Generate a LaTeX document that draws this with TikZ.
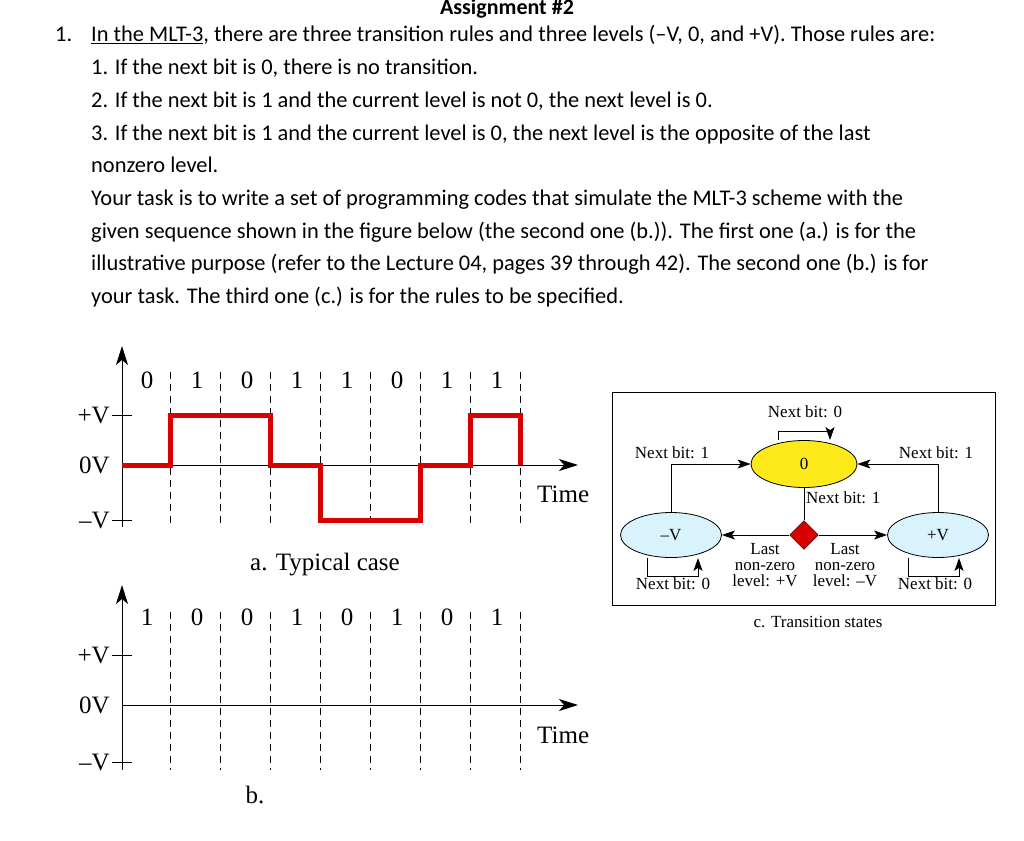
\documentclass[tikz,border=0pt]{standalone}
\usepackage{fontspec}
\setmainfont{Carlito}
\newfontfamily\serifx{Liberation Serif}
\usetikzlibrary{arrows.meta,shapes.geometric}
\begin{document}
\begin{tikzpicture}[x=1pt,y=-1pt,
  body/.style={anchor=base west,font=\fontsize{22.4}{22}\selectfont,inner sep=0},
  lab/.style={font=\serifx\fontsize{25}{25}\selectfont,inner sep=1},
  small/.style={font=\serifx\fontsize{17}{16}\selectfont,inner sep=1,align=center},
  ax/.style={line width=1pt},
  arr/.style={-{Stealth[length=19pt,width=12pt,inset=5pt]}},
  dsh/.style={dash pattern=on 7pt off 5pt,line width=0.7pt},
  wave/.style={red!85!black,line width=5pt,line join=miter},
  st/.style={ellipse,draw,line width=0.8pt,minimum width=101pt,minimum height=45pt,font=\serifx\fontsize{17}{17}\selectfont},
  ca/.style={line width=1pt,-{Stealth[length=13pt,width=9pt,inset=3pt]}}]
\useasboundingbox (0,0) rectangle (1024,840);
% text
\node[anchor=base,font=\bfseries\fontsize{22}{22}\selectfont,inner sep=0] (title) at (507,15) {Assignment \#2};
\node[body] (n1) at (55,42) {1.};
\node[body] (l0) at (91,42) {\underline{In the MLT-3}, there are three transition rules and three levels (–V, 0, and +V). Those rules are:};
\node[body] (l1) at (91,75) {1. If the next bit is 0, there is no transition.};
\node[body] (l2) at (91,108) {2. If the next bit is 1 and the current level is not 0, the next level is 0.};
\node[body] (l3) at (91,140) {3. If the next bit is 1 and the current level is 0, the next level is the opposite of the last};
\node[body] (l4) at (91,172) {nonzero level.};
\node[body] (l5) at (91,205) {Your task is to write a set of programming codes that simulate the MLT-3 scheme with the};
\node[body] (l6) at (91,238) {given sequence shown in the figure below (the second one (b.)). The first one (a.) is for the};
\node[body] (l7) at (91,270) {illustrative purpose (refer to the Lecture 04, pages 39 through 42). The second one (b.) is for};
\node[body] (l8) at (91,303) {your task. The third one (c.) is for the rules to be specified.};
% chart a
\foreach \x in {170,220,...,520} \draw[dsh] (\x,372) -- (\x,527);
\draw[ax,arr] (122,527) -- (122,346);
\draw[ax,arr] (122,465) -- (578,465);
\foreach \y in {415,520} \draw[ax] (112,\y) -- (132,\y);
\node[lab,anchor=east] (pv) at (111,415) {+V};
\node[lab,anchor=east] (zv) at (111,465) {0V};
\node[lab,anchor=east] (mv) at (111,520) {–V};
\node[lab,anchor=west] (ta) at (536,494) {Time};
\foreach \b [count=\i] in {0,1,0,1,1,0,1,1} \node[lab] (a\i) at (122+50*\i-25,380) {\b};
\draw[wave] (122,465) -- (170,465) -- (170,415) -- (270,415) -- (270,465) -- (320,465) -- (320,520) -- (420,520) -- (420,465) -- (470,465) -- (470,415) -- (520,415) -- (520,465);
\node[lab] (capa) at (325,565) {a. Typical case};
% chart b
\foreach \x in {170,220,...,520} \draw[dsh] (\x,612) -- (\x,770);
\draw[ax,arr] (122,770) -- (122,585);
\draw[ax,arr] (122,705) -- (578,705);
\foreach \y in {655,762} \draw[ax] (112,\y) -- (132,\y);
\node[lab,anchor=east] (pvb) at (111,655) {+V};
\node[lab,anchor=east] (zvb) at (111,705) {0V};
\node[lab,anchor=east] (mvb) at (111,762) {–V};
\node[lab,anchor=west] (tb) at (536,735) {Time};
\foreach \b [count=\i] in {1,0,0,1,0,1,0,1} \node[lab] (b\i) at (122+50*\i-25,617) {\b};
\node[lab] (capb) at (255,795) {b.};
% diagram c
\draw[line width=0.7pt] (612,392) rectangle (995,605);
\node[st,fill=yellow!90!orange!90,minimum width=106pt,minimum height=47pt] (s0) at (804,464) {0};
\node[st,fill=cyan!15] (sm) at (671,535) {–V};
\node[st,fill=cyan!15] (sp) at (938,535) {+V};
\node[diamond,draw,fill=red!85!black,minimum size=29pt,inner sep=0] (d) at (804,535) {};
\draw[ca] ([xshift=-26pt]s0.north) -- ++(0,-9) -- ++(52,0) -- ([xshift=26pt]s0.north);
\node[small] (t0) at (805,412) {Next bit: 0};
\draw[ca] (sm.north) |- (s0.west);
\draw[ca] (sp.north) |- (s0.east);
\node[small] (tl) at (672,453) {Next bit: 1};
\node[small] (tr) at (936,453) {Next bit: 1};
\draw[line width=1pt] (s0.south) -- (d.north);
\node[small,anchor=west] (tm) at (805,498) {Next bit: 1};
\draw[ca] (d.west) -- (sm.east);
\draw[ca] (d.east) -- (sp.west);
\node[small] (lp) at (765,565) {Last\\non-zero\\level: +V};
\node[small] (lm) at (845,565) {Last\\non-zero\\level: –V};
\draw[ca] ([xshift=-24pt]sm.south) -- ++(0,19) -- ++(51,0) -- ([xshift=27pt]sm.south);
\draw[ca] ([xshift=-30pt]sp.south) -- ++(0,19) -- ++(51,0) -- ([xshift=21pt]sp.south);
\node[small] (bl) at (673,584) {Next bit: 0};
\node[small] (br) at (935,584) {Next bit: 0};
\node[small] (capc) at (818,622) {c. Transition states};
\end{tikzpicture}
\end{document}
